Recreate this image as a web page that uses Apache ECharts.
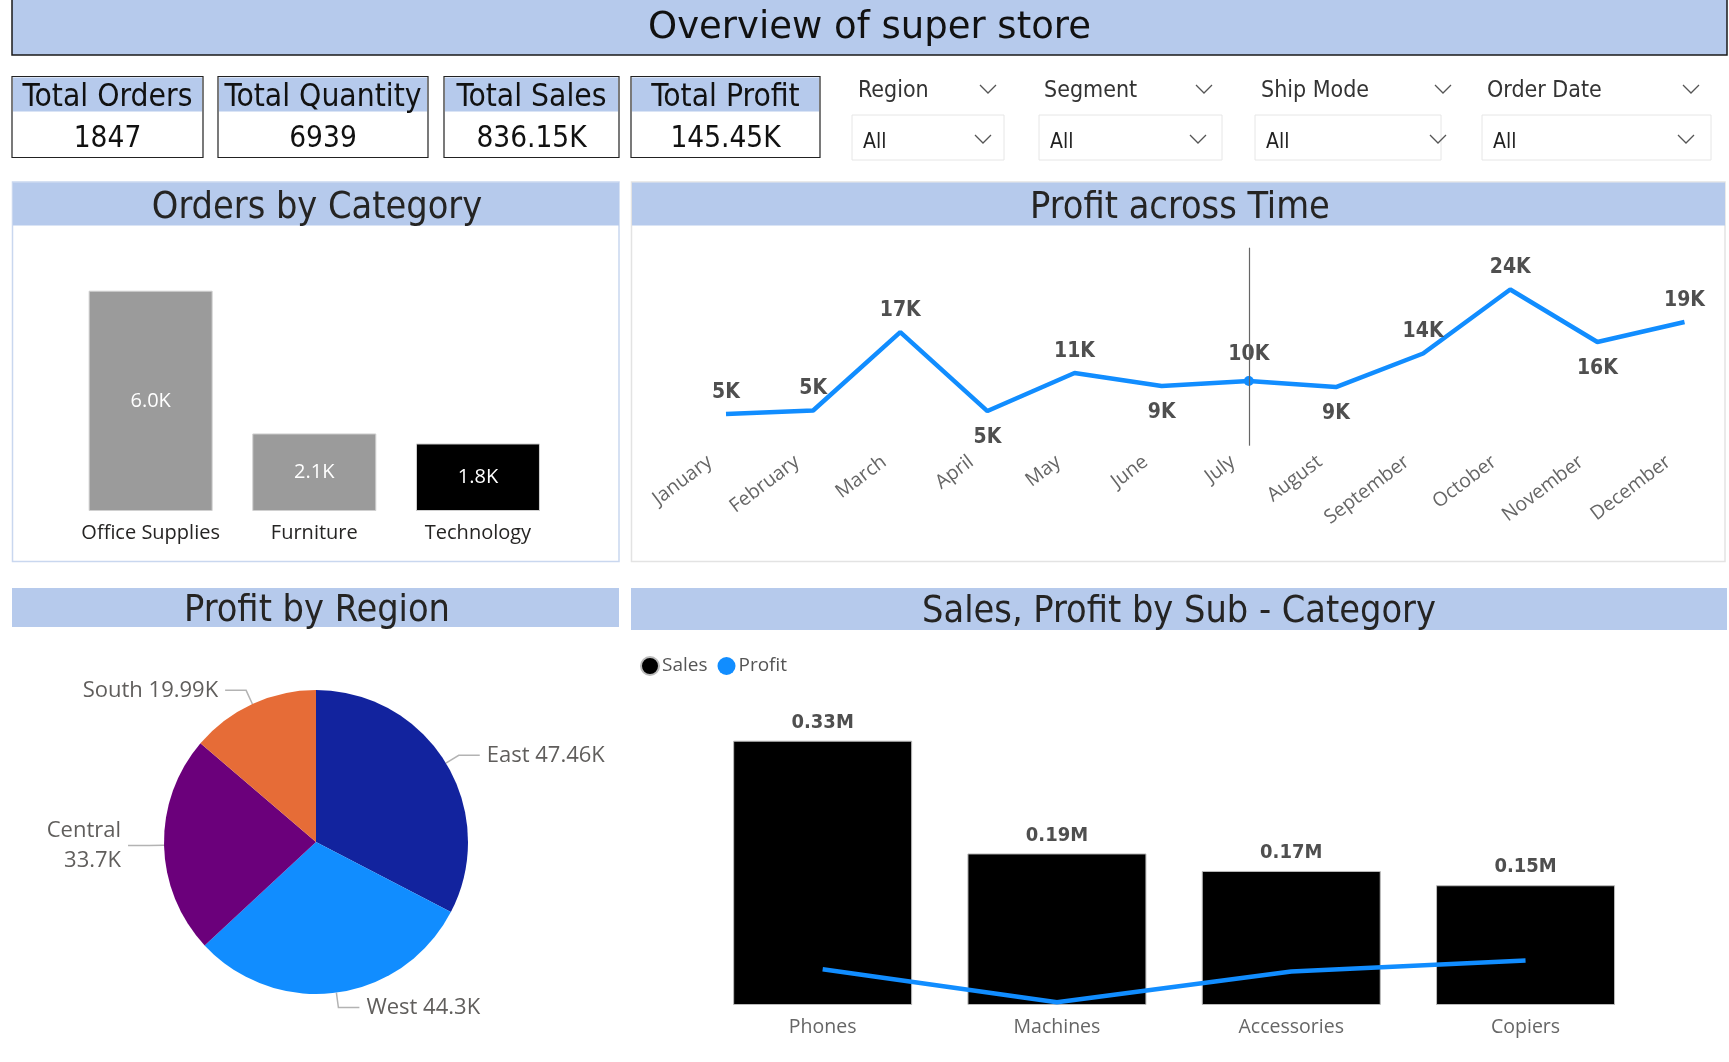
<!DOCTYPE html>
<html><head><meta charset="utf-8">
<script src="https://cdn.jsdelivr.net/npm/echarts@6/dist/echarts.min.js"></script>
<style>html,body{margin:0;padding:0;background:#fff}#c{width:1729px;height:1062px}</style>
</head><body><div id="c"></div>
<script>
// ---------------- data ----------------
const dashboardTitle = 'Overview of super store';
const kpiLabels = ['Total Orders', 'Total Quantity', 'Total Sales', 'Total Profit'];
const kpiValues = ['1847', '6939', '836.15K', '145.45K'];
const slicerLabels = ['Region', 'Segment', 'Ship Mode', 'Order Date'];
const slicerValues = ['All', 'All', 'All', 'All'];
const panelTitles = ['Orders by Category', 'Profit across Time', 'Profit by Region', 'Sales, Profit by Sub - Category'];
const categories = ['Office Supplies', 'Furniture', 'Technology'];
const categoryOrders = [6026, 2121, 1847];
const months = ['January', 'February', 'March', 'April', 'May', 'June', 'July', 'August', 'September', 'October', 'November', 'December'];
const monthlyProfit = [4800, 5330, 17220, 5250, 11010, 9040, 9800, 8890, 13970, 23660, 15710, 18740];
const highlightedMonth = 'July';
const regions = ['East', 'West', 'Central', 'South'];
const regionProfit = [47460, 44300, 33700, 19990];
const subCategories = ['Phones', 'Machines', 'Accessories', 'Copiers'];
const subSales = [330007, 189239, 167380, 149528];
const subProfit = [44516, 3385, 41937, 55618];

// ---------------- styles / layout ----------------
const BAND = '#B6CAEC';
const FT = '"DejaVu Sans Condensed", "DejaVu Sans", sans-serif';
const FUI = '"Open Sans", "Noto Sans", sans-serif';
const PBI_BLUE = '#118DFF';
const catColors = ['#9B9B9B', '#9B9B9B', '#000000'];
const regionColors = ['#12239E', '#118DFF', '#6B007B', '#E66C37'];
const kpiBoxes = [[12, 191], [218, 210], [444, 175], [631, 189]];
const slicerLabelX = [858, 1044, 1261, 1487];
const slicerHeadChevX = [988, 1204, 1443, 1691];
const slicerBoxes = [[852, 152], [1039, 183], [1255, 186], [1482, 229]];
const slicerBoxChevX = [983, 1198, 1438, 1686];

function chevron(cx, cy) {
  return { type: 'polyline', shape: { points: [[cx - 8, cy - 4], [cx, cy + 4], [cx + 8, cy - 4]] },
    style: { stroke: '#555', lineWidth: 1.3, fill: null } };
}
function text(x, y, t, size, family, color, opts) {
  return { type: 'text', x: x, y: y,
    style: Object.assign({ text: t, fontSize: size, fontFamily: family, fill: color || '#111',
      align: 'center', verticalAlign: 'middle' }, (opts || {})) };
}

const graphics = [];
// main title bar
graphics.push({ type: 'rect', shape: { x: 12, y: -1, width: 1715, height: 56 },
  style: { fill: BAND, stroke: '#1a1a1a', lineWidth: 1.5 } });
graphics.push(text(869.5, 28.5, dashboardTitle, 37, '"DejaVu Sans", sans-serif', '#111'));
// KPI cards
kpiLabels.forEach((lab, i) => {
  const [x, w] = kpiBoxes[i];
  graphics.push({ type: 'rect', shape: { x: x, y: 76.5, width: w, height: 81 },
    style: { fill: '#fff', stroke: '#222', lineWidth: 1.2 } });
  graphics.push({ type: 'rect', shape: { x: x + 1, y: 77.5, width: w - 2, height: 34 }, style: { fill: BAND } });
  graphics.push(text(x + w / 2, 98, lab, 31.5, FT, '#111'));
  graphics.push(text(x + w / 2, 139.5, kpiValues[i], 29.5, FT, '#111'));
});
// slicers
slicerLabels.forEach((lab, i) => {
  graphics.push(text(slicerLabelX[i], 91, lab, 23, FT, '#333', { align: 'left' }));
  graphics.push(chevron(slicerHeadChevX[i], 89));
  const [x, w] = slicerBoxes[i];
  graphics.push({ type: 'rect', shape: { x: x, y: 115, width: w, height: 45 },
    style: { fill: '#fff', stroke: '#E6E6E6', lineWidth: 1 } });
  graphics.push(text(x + 11, 143, slicerValues[i], 21, FT, '#222', { align: 'left' }));
  graphics.push(chevron(slicerBoxChevX[i], 139));
});
// panels
graphics.push({ type: 'rect', shape: { x: 12.5, y: 182, width: 606.5, height: 379.5 },
  style: { fill: null, stroke: '#C9D7EF', lineWidth: 1.5 } });
graphics.push({ type: 'rect', shape: { x: 13, y: 182.5, width: 606, height: 43 }, style: { fill: BAND } });
graphics.push(text(317, 208, panelTitles[0], 37.5, FT, '#252423'));

graphics.push({ type: 'rect', shape: { x: 631.5, y: 182, width: 1093.5, height: 379.5 },
  style: { fill: null, stroke: '#E3E3E3', lineWidth: 1.5 } });
graphics.push({ type: 'rect', shape: { x: 632, y: 182.5, width: 1093, height: 43 }, style: { fill: BAND } });
graphics.push(text(1180, 208, panelTitles[1], 37.5, FT, '#252423'));

graphics.push({ type: 'rect', shape: { x: 12, y: 588, width: 607, height: 39 }, style: { fill: BAND } });
graphics.push(text(317, 611, panelTitles[2], 37.5, FT, '#252423'));

graphics.push({ type: 'rect', shape: { x: 631, y: 588, width: 1096, height: 42 }, style: { fill: BAND } });
graphics.push(text(1179, 612, panelTitles[3], 37.5, FT, '#252423'));

// ---------------- series data ----------------
const hoverIdx = months.indexOf(highlightedMonth);
const timeData = monthlyProfit.map((v, i) => {
  const isMin = i > 0 && i < monthlyProfit.length - 1 && v < monthlyProfit[i - 1] && v < monthlyProfit[i + 1];
  return isMin ? { value: v, label: { position: 'bottom', distance: 16 } } : v;
});
const wrapRegions = ['Central'];
function kTrim(v) { return parseFloat((v / 1000).toFixed(2)).toString() + 'K'; }
const pieData = regions.map((r, i) => ({ name: r, value: regionProfit[i], itemStyle: { color: regionColors[i] } }));

const boldLabel = { fontFamily: FT, fontWeight: 'bold', fontSize: 21, color: '#4F4F4F' };

const option = {
  animation: false,
  backgroundColor: '#fff',
  graphic: { elements: graphics },
  legend: {
    data: ['Sales', 'Profit'], left: 635, top: 651, icon: 'circle', itemWidth: 18, itemHeight: 18,
    itemGap: 10, selectedMode: false, textStyle: { fontFamily: FUI, fontSize: 19, color: '#555', padding: [0, 0, 0, -2] }
  },
  grid: [
    { left: 68.8, top: 290.7, width: 491, height: 220.3 },
    { left: 726, top: 247.7, width: 958.5, height: 198 },
    { left: 705.5, top: 740.7, width: 937.2, height: 264.3 }
  ],
  xAxis: [
    { gridIndex: 0, type: 'category', data: categories, axisLine: { show: false }, axisTick: { show: false },
      axisLabel: { fontFamily: FUI, fontSize: 20, color: '#252423', margin: 12, interval: 0 } },
    { gridIndex: 1, type: 'category', data: months, boundaryGap: false, axisLine: { show: false }, axisTick: { show: false },
      axisLabel: { fontFamily: FUI, fontSize: 19.5, color: '#666', margin: 2, rotate: 37, interval: 0,
        padding: [0, 20, 0, 0] } },
    { gridIndex: 2, type: 'category', data: subCategories, axisLine: { show: false }, axisTick: { show: false },
      axisLabel: { fontFamily: FUI, fontSize: 19.5, color: '#666', margin: 12, interval: 0 } }
  ],
  yAxis: [
    { gridIndex: 0, type: 'value', min: 0, max: 'dataMax', show: false },
    { gridIndex: 1, type: 'value', min: 0, max: 30000, show: false },
    { gridIndex: 2, type: 'value', min: 0, max: 'dataMax', show: false }
  ],
  series: [
    { type: 'bar', name: 'Orders', xAxisIndex: 0, yAxisIndex: 0, barWidth: 124,
      data: categoryOrders.map((v, i) => ({ value: v, itemStyle: { color: catColors[i], borderColor: '#D0D0D0', borderWidth: 1 } })),
      label: { show: true, position: 'inside', color: '#fff', fontFamily: FUI, fontSize: 20,
        formatter: p => (p.value / 1000).toFixed(1) + 'K' } },
    { type: 'line', name: 'Profit by month', xAxisIndex: 1, yAxisIndex: 1, data: timeData,
      lineStyle: { width: 4.5, color: PBI_BLUE }, itemStyle: { color: PBI_BLUE },
      symbol: 'circle', symbolSize: (v, p) => (p.dataIndex === hoverIdx ? 10 : 0), showAllSymbol: true,
      label: Object.assign({ show: true, position: 'top', distance: 11,
        formatter: p => Math.round(p.value / 1000) + 'K' }, boldLabel),
      markLine: { silent: true, symbol: 'none', label: { show: false },
        lineStyle: { color: '#666', width: 1.2, type: 'solid' }, data: [{ xAxis: highlightedMonth }] } },
    { type: 'pie', name: 'Profit by Region', center: [316, 842], radius: 152, startAngle: 90, clockwise: true,
      data: pieData,
      label: { fontFamily: FUI, fontSize: 22, lineHeight: 30, color: '#605E5C', distanceToLabelLine: 7,
        formatter: p => p.name + (wrapRegions.indexOf(p.name) >= 0 ? '\n' : ' ') + kTrim(p.value) },
      labelLine: { length: 15, length2: 21, lineStyle: { color: '#B3B3B3', width: 1.5 } } },
    { type: 'bar', name: 'Sales', xAxisIndex: 2, yAxisIndex: 2, barWidth: 179, data: subSales,
      itemStyle: { color: '#000', borderColor: '#BBBBBB', borderWidth: 1 },
      label: Object.assign({ show: true, position: 'top', distance: 8,
        formatter: p => (p.value / 1e6).toFixed(2) + 'M' }, boldLabel, { fontSize: 20 }) },
    { type: 'line', name: 'Profit', xAxisIndex: 2, yAxisIndex: 2, data: subProfit, showSymbol: false,
      lineStyle: { width: 4.5, color: PBI_BLUE }, itemStyle: { color: PBI_BLUE } }
  ]
};
const chart = echarts.init(document.getElementById('c'), null, { renderer: 'canvas' });
chart.setOption(option);
</script>
</body></html>
